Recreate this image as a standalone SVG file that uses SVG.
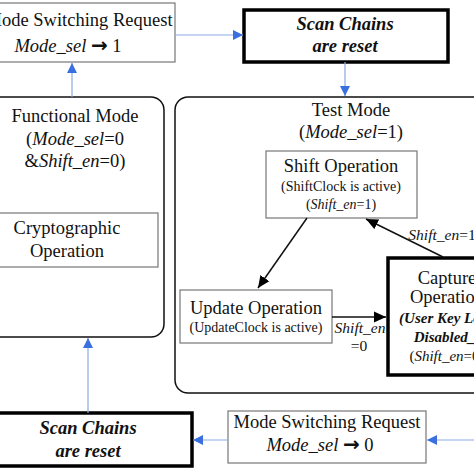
<svg xmlns="http://www.w3.org/2000/svg" width="474" height="474" viewBox="0 0 474 474">
<defs>
<style>
text{font-family:"Liberation Serif","Times New Roman",serif;fill:#111;text-anchor:middle}
.m{font-size:18.5px}
.s{font-size:14px}
.bi{font-weight:bold;font-style:italic}
.i{font-style:italic}
.arr{font-family:"DejaVu Sans",sans-serif;font-weight:bold;font-size:20px}
.box{fill:#fff;stroke:#777;stroke-width:1.2}
.thick{fill:#fff;stroke:#000;stroke-width:3.5}
.mode{fill:#fff;stroke:#111;stroke-width:1.5}
.blue{stroke:#8aaae6;stroke-width:1.2;fill:none}
.blk{stroke:#111;stroke-width:1.5;fill:none}
</style>
<marker id="ab" viewBox="0 0 10 10" refX="10" refY="5" markerWidth="10" markerHeight="10" markerUnits="userSpaceOnUse" orient="auto"><path d="M0,0L10,5L0,10z" fill="#3a6fe0"/></marker>
<marker id="ak" viewBox="0 0 10 10" refX="10" refY="5" markerWidth="12" markerHeight="12" markerUnits="userSpaceOnUse" orient="auto"><path d="M0,0.5L10,5L0,9.5z" fill="#000"/></marker>
</defs>
<rect width="474" height="474" fill="#fff"/>

<g id="functional-mode">
<rect class="mode" x="-20" y="97" width="184" height="240" rx="13"/>
<text class="m" x="75" y="122">Functional Mode</text>
<text class="m" x="75" y="145">(<tspan class="i">Mode_sel</tspan>=0</text>
<text class="m" x="75" y="167">&amp;<tspan class="i">Shift_en</tspan>=0)</text>
</g>
<g id="crypto">
<rect class="box" x="-20" y="213" width="178" height="54"/>
<text class="m" x="67" y="234">Cryptographic</text>
<text class="m" x="67" y="257">Operation</text>
</g>

<g id="test-mode">
<rect class="mode" x="175" y="97" width="340" height="296" rx="13"/>
<text class="m" x="351" y="116">Test Mode</text>
<text class="m" x="351" y="138">(<tspan class="i">Mode_sel</tspan>=1)</text>
</g>
<g id="shift-op">
<rect class="box" x="266" y="151" width="151" height="67"/>
<text class="m" x="341" y="172">Shift Operation</text>
<text class="s" x="341" y="191">(ShiftClock is active)</text>
<text class="s" x="341" y="209">(<tspan class="i">Shift_en</tspan>=1)</text>
</g>
<g id="update-op">
<rect class="box" x="180" y="290" width="152" height="53"/>
<text class="m" x="256" y="314">Update Operation</text>
<text class="s" x="256" y="332">(UpdateClock is active)</text>
</g>
<g id="capture-op">
<rect class="thick" x="388" y="258" width="118" height="117"/>
<text class="m" x="447" y="284">Capture</text>
<text class="m" x="447" y="303">Operation</text>
<text class="s bi" x="447" y="323" style="font-size:15px">(User Key Lock</text>
<text class="s bi" x="447" y="342" style="font-size:15px">Disabled_)</text>
<text class="s" x="447" y="361" style="font-size:15px">(<tspan class="i">Shift_en</tspan>=0)</text>
</g>

<g id="msr-top">
<rect class="box" x="-24" y="3" width="199" height="59"/>
<text class="m" x="79" y="26">Mode Switching Request</text>
<text class="m" x="68" y="52"><tspan class="i">Mode_sel</tspan> <tspan class="arr">→</tspan> 1</text>
</g>
<g id="scan-top">
<rect class="thick" x="244" y="10" width="204" height="52"/>
<text class="m bi" x="345" y="30">Scan Chains</text>
<text class="m bi" x="345" y="52">are reset</text>
</g>
<g id="scan-bottom">
<rect class="thick" x="-20" y="413" width="212" height="53"/>
<text class="m bi" x="88" y="434">Scan Chains</text>
<text class="m bi" x="88" y="457">are reset</text>
</g>
<g id="msr-bottom">
<rect class="box" x="228" y="411" width="198" height="52"/>
<text class="m" x="327" y="428">Mode Switching Request</text>
<text class="m" x="320" y="451"><tspan class="i">Mode_sel</tspan> <tspan class="arr">→</tspan> 0</text>
</g>

<g id="connectors">
<line class="blue" x1="72" y1="97" x2="72" y2="63" marker-end="url(#ab)"/>
<line class="blue" x1="175" y1="35" x2="243" y2="35" marker-end="url(#ab)"/>
<line class="blue" x1="345" y1="62" x2="345" y2="96" marker-end="url(#ab)"/>
<line class="blue" x1="480" y1="440" x2="427" y2="440" marker-end="url(#ab)"/>
<line class="blue" x1="228" y1="440" x2="193" y2="440" marker-end="url(#ab)"/>
<line class="blue" x1="88" y1="413" x2="88" y2="338" marker-end="url(#ab)"/>
<line class="blk" x1="307" y1="218" x2="258" y2="288" marker-end="url(#ak)"/>
<line class="blk" x1="332" y1="317" x2="386" y2="317" marker-end="url(#ak)"/>
<line class="blk" x1="443" y1="257" x2="366" y2="219" marker-end="url(#ak)"/>
<text class="s i" x="360" y="333" style="font-size:15.5px">Shift_en</text>
<text class="s" x="359" y="351" style="font-size:15.5px">=0</text>
<text class="s" x="442" y="240" style="font-size:15.5px"><tspan class="i">Shift_en</tspan>=1</text>
</g>
</svg>
